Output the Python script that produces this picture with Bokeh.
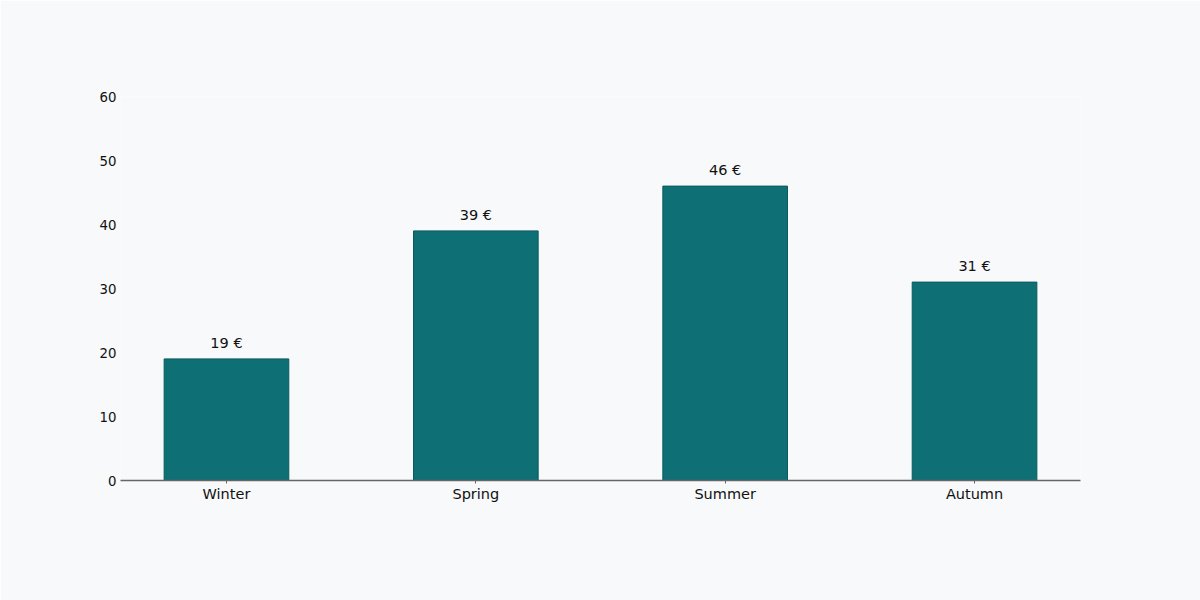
from bokeh.plotting import figure
from bokeh.models import ColumnDataSource, Range1d, FixedTicker
from bokeh.embed import file_html
from bokeh.resources import INLINE
from bokeh.core.properties import value

seasons = ["Winter", "Spring", "Summer", "Autumn"]
prices = [19, 39, 46, 31]
y_ticks = [0, 10, 20, 30, 40, 50, 60]

xs = list(range(len(seasons)))
labels = [f"{v} €" for v in prices]
src = ColumnDataSource(dict(x=xs, top=prices, label=labels))

BG = "#f8f9fb"
p = figure(width=1200, height=600, output_backend="svg", toolbar_location=None,
           x_range=Range1d(-0.425, len(seasons) - 1 + 0.425), y_range=Range1d(0, 60),
           background_fill_color=BG, border_fill_color=BG,
           min_border_left=120, min_border_right=120, min_border_top=96, min_border_bottom=120)
p.outline_line_color = None
p.grid.grid_line_color = None

p.vbar(x="x", top="top", width=0.5, bottom=0, source=src,
       fill_color="#0e6f75", line_color="#0b5a5f", line_width=1)

p.text(x="x", y="top", text="label", source=src, text_align="center",
       text_baseline="middle", y_offset=-16, text_font=value("DejaVu Sans"),
       text_font_size="14.5px", text_color="#111111")

p.xaxis.ticker = FixedTicker(ticks=xs)
p.xaxis.major_label_overrides = {i: s for i, s in enumerate(seasons)}
p.xaxis.axis_line_color = "#666666"
p.xaxis.axis_line_width = 1.3
p.xaxis.major_tick_line_color = "#666666"
p.xaxis.major_tick_in = 0
p.xaxis.major_tick_out = 3
p.xaxis.minor_tick_line_color = None
p.xaxis.major_label_text_font = "DejaVu Sans"
p.xaxis.major_label_text_font_size = "14.5px"
p.xaxis.major_label_text_color = "#111111"
p.xaxis.major_label_standoff = 2

p.yaxis.ticker = FixedTicker(ticks=y_ticks)
p.yaxis.axis_line_color = None
p.yaxis.major_tick_line_color = None
p.yaxis.major_tick_in = 0
p.yaxis.major_tick_out = 0
p.yaxis.minor_tick_line_color = None
p.yaxis.major_label_text_font = "DejaVu Sans"
p.yaxis.major_label_text_font_size = "13.3px"
p.yaxis.major_label_text_color = "#111111"
p.yaxis.major_label_standoff = 4

open("out.html", "w").write(file_html(p, INLINE))
